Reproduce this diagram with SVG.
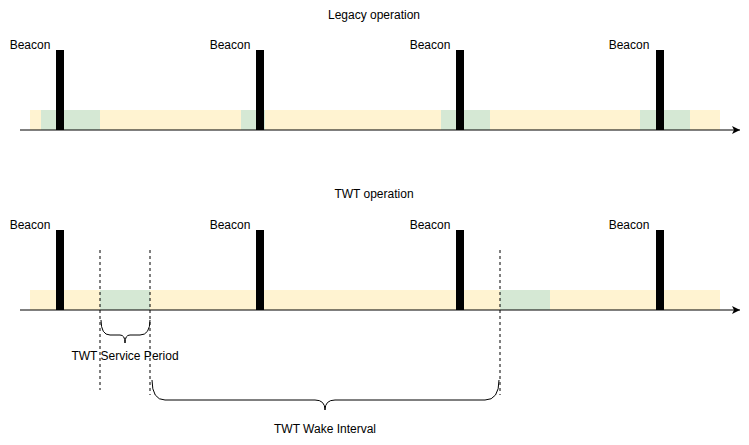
<svg xmlns="http://www.w3.org/2000/svg" width="749" height="445" viewBox="0 0 749 445">
<style>
text{font-family:"Liberation Sans",Arial,sans-serif;font-size:12px;fill:#000;text-anchor:middle}
.y{fill:#fff2cc;opacity:.9}
.g{fill:#d5e8d4}
.b{fill:#000}
.d{stroke:#000;stroke-dasharray:3 3;fill:none}
.br{stroke:#000;fill:none}
</style>
<defs><marker id="ar" markerWidth="10" markerHeight="10" refX="9" refY="5" orient="auto" markerUnits="userSpaceOnUse"><path d="M1,1 L9,5 L1,9 L3,5 Z" fill="#000"/></marker></defs>
<g id="legacy">
<text x="374" y="19">Legacy operation</text>
<rect class="y" x="30" y="110" width="690" height="20"/>
<rect class="g" x="41" y="110" width="59" height="20"/>
<rect class="g" x="241" y="110" width="24" height="20"/>
<rect class="g" x="441" y="110" width="49" height="20"/>
<rect class="g" x="640" y="110" width="50" height="20"/>
</g>
<g id="twt">
<text x="374" y="198">TWT operation</text>
<rect class="y" x="30" y="290" width="690" height="20"/>
<rect class="g" x="100" y="290" width="50" height="20"/>
<rect class="g" x="500" y="290" width="50" height="20"/>
</g>
<g id="connectors">
<line x1="20" y1="130" x2="740" y2="130" stroke="#000" marker-end="url(#ar)"/>
<line x1="20" y1="310" x2="740" y2="310" stroke="#000" marker-end="url(#ar)"/>
<line class="d" x1="100" y1="250" x2="100" y2="390"/>
<line class="d" x1="150" y1="250" x2="150" y2="395"/>
<line class="d" x1="500" y1="250" x2="500" y2="395"/>
<path class="br" d="M101,320 Q101,335 110,335 L120,335 Q125,335 125,343 Q125,335 130,335 L140,335 Q150,335 150,320"/>
<path class="br" d="M152,380 Q152,400 165,400 L315,400 Q325,400 325,410 Q325,400 335,400 L485,400 Q499,400 499,380"/>
</g>
<g id="beacons">
<rect class="b" x="56" y="50" width="8" height="80"/><text x="30" y="49">Beacon</text>
<rect class="b" x="256" y="50" width="8" height="80"/><text x="230" y="49">Beacon</text>
<rect class="b" x="456" y="50" width="8" height="80"/><text x="430" y="49">Beacon</text>
<rect class="b" x="656" y="50" width="8" height="80"/><text x="629" y="49">Beacon</text>
<rect class="b" x="56" y="230" width="8" height="80"/><text x="30" y="229">Beacon</text>
<rect class="b" x="256" y="230" width="8" height="80"/><text x="230" y="229">Beacon</text>
<rect class="b" x="456" y="230" width="8" height="80"/><text x="430" y="229">Beacon</text>
<rect class="b" x="656" y="230" width="8" height="80"/><text x="629" y="229">Beacon</text>
</g>
<g id="labels">
<text x="125" y="360">TWT Service Period</text>
<text x="325" y="433">TWT Wake Interval</text>
</g>
</svg>
